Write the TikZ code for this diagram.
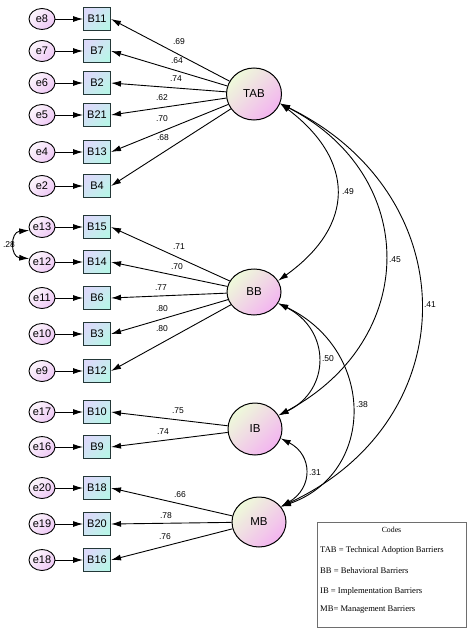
\documentclass[tikz,border=0pt]{standalone}
\usepackage{fontspec}
\setmainfont{Liberation Sans}
\newfontfamily\legfont{Liberation Serif}
\usetikzlibrary{arrows.meta,shapes.geometric}
\definecolor{latpink}{RGB}{243,180,240}
\definecolor{latlight}{RGB}{238,250,218}
\definecolor{boxcyan}{RGB}{185,245,232}
\definecolor{boxlav}{RGB}{220,218,250}
\definecolor{errpink}{RGB}{238,200,245}
\definecolor{errlight}{RGB}{252,246,252}
\definecolor{boxline}{RGB}{35,55,55}
\begin{document}
\begin{tikzpicture}[x=1pt,y=-1pt,
  lat/.style={ellipse, draw=black, line width=1pt, inner sep=0pt,
    top color=latlight, bottom color=latpink, shading angle=45,
    font=\fontsize{11.5}{13}\selectfont},
  obs/.style={rectangle, draw=boxline, line width=1pt, inner sep=0pt,
    minimum width=27pt, minimum height=23pt,
    top color=boxlav, bottom color=boxcyan, shading angle=45,
    font=\fontsize{11}{12}\selectfont},
  err/.style={ellipse, draw=black, line width=0.9pt, inner sep=0pt,
    minimum width=26pt, minimum height=21pt,
    top color=errlight, bottom color=errpink, shading angle=45,
    font=\fontsize{11}{12}\selectfont},
  coef/.style={inner sep=0pt, font=\fontsize{8.5}{9}\selectfont},
  arr/.style={line width=0.9pt, -{Latex[length=10pt,width=6pt]}},
  darr/.style={line width=0.9pt, {Latex[length=10pt,width=6pt]}-{Latex[length=10pt,width=6pt]}},
  legtxt/.style={inner sep=0pt, anchor=west, font=\legfont\fontsize{8.6}{10}\selectfont}
]
\useasboundingbox (0,0) rectangle (474,631);

% latent variables
\node[lat, minimum width=55pt, minimum height=52pt] (TAB) at (254,94) {TAB};
\node[lat, minimum width=54pt, minimum height=46pt] (BB) at (254,292) {BB};
\node[lat, minimum width=54pt, minimum height=52pt] (IB) at (255,429) {IB};
\node[lat, minimum width=54pt, minimum height=50pt] (MB) at (259,522) {MB};

% observed and error nodes
\foreach \b/\e/\y in {B11/e8/19, B7/e7/51, B2/e6/83, B21/e5/115, B13/e4/152, B4/e2/186,
  B15/e13/227, B14/e12/262, B6/e11/298, B3/e10/334, B12/e9/371,
  B10/e17/412, B9/e16/447, B18/e20/488, B20/e19/524, B16/e18/560}{
  \node[obs] (\b) at (97,\y) {\b};
  \node[err] (\e) at (42,\y) {\e};
  \draw[arr] (\e) -- (\b);
}

% loadings
\foreach \l/\b in {TAB/B11, TAB/B7, TAB/B2, TAB/B21, TAB/B13, TAB/B4,
  BB/B15, BB/B14, BB/B6, BB/B3, BB/B12, IB/B10, IB/B9, MB/B18, MB/B20, MB/B16}{
  \draw[arr] (\l) -- (\b.east);
}
\node[coef] (c1) at (179,42) {.69};
\node[coef] (c2) at (177,61) {.64};
\node[coef] (c3) at (176,79) {.74};
\node[coef] (c4) at (162,98) {.62};
\node[coef] (c5) at (162,119) {.70};
\node[coef] (c6) at (163,138) {.68};
\node[coef] (c7) at (179,247) {.71};
\node[coef] (c8) at (177,267) {.70};
\node[coef] (c9) at (161,288) {.77};
\node[coef] (c10) at (162,309) {.80};
\node[coef] (c11) at (162,329) {.80};
\node[coef] (c12) at (178,411) {.75};
\node[coef] (c13) at (163,432) {.74};
\node[coef] (c14) at (180,495) {.66};
\node[coef] (c15) at (166,516) {.78};
\node[coef] (c16) at (165,537) {.76};

% error covariance
\draw[darr] (e13.195) .. controls (10,232) and (10,257) .. (e12.165);
\node[coef] (c17) at (9,245) {.28};

% latent covariances
\draw[darr] (TAB.-20) .. controls (355,160) and (356,225) .. (BB.25);
\draw[darr] (TAB.-20) .. controls (420,175) and (420,340) .. (IB.30);
\draw[darr] (TAB.-20) .. controls (467,195) and (467,420) .. (MB.35);
\draw[darr] (BB.-25) .. controls (331,330) and (331,390) .. (IB.30);
\draw[darr] (BB.-25) .. controls (376,350) and (376,473) .. (MB.35);
\draw[darr] (IB.-20) .. controls (313,455) and (313,488) .. (MB.35);
\node[coef] (c18) at (348,192) {.49};
\node[coef] (c19) at (395,260) {.45};
\node[coef] (c20) at (430,305) {.41};
\node[coef] (c21) at (328,359) {.50};
\node[coef] (c22) at (362,405) {.38};
\node[coef] (c23) at (315,473) {.31};

% legend
\node[draw={rgb,255:red,110;green,110;blue,110}, line width=0.8pt, fill=white,
  minimum width=149pt, minimum height=105pt, inner sep=0pt, anchor=north west] (leg) at (317,522) {};
\node[inner sep=0pt, font=\legfont\fontsize{7.8}{9}\selectfont] (lt) at (391.5,530) {Codes};
\node[legtxt] (l1) at (320,550) {TAB = Technical Adoption Barriers};
\node[legtxt] (l2) at (320,571) {BB = Behavioral Barriers};
\node[legtxt] (l3) at (320,591) {IB = Implementation Barriers};
\node[legtxt] (l4) at (320,610) {MB= Management Barriers};
\end{tikzpicture}
\end{document}
